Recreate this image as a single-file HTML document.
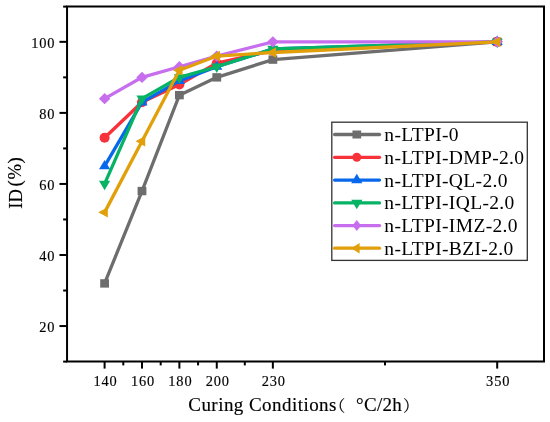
<!DOCTYPE html>
<html><head><meta charset="utf-8"><title>ID vs Curing Conditions</title>
<style>
html,body{margin:0;padding:0;background:#fff;}
body{width:550px;height:422px;overflow:hidden;}
svg{display:block;}
text{font-family:"Liberation Serif","Noto Serif CJK SC",serif;fill:#000;stroke:#000;stroke-width:0.15px;}
</style></head><body>
<svg width="550" height="422" viewBox="0 0 550 422">
<rect width="550" height="422" fill="#fff"/>

<g stroke="#000" stroke-width="2.0" fill="none" stroke-linecap="square">
<path d="M67.05 6.6 H544.0 V361.6 H67.05 Z" stroke-linecap="butt"/>
<path d="M59.45 326.05 H67.05" stroke-linecap="butt"/>
<path d="M59.45 255.00 H67.05" stroke-linecap="butt"/>
<path d="M59.45 183.95 H67.05" stroke-linecap="butt"/>
<path d="M59.45 112.90 H67.05" stroke-linecap="butt"/>
<path d="M59.45 41.85 H67.05" stroke-linecap="butt"/>
<path d="M63.15 361.60 H67.05" stroke-linecap="butt"/>
<path d="M63.15 290.53 H67.05" stroke-linecap="butt"/>
<path d="M63.15 219.47 H67.05" stroke-linecap="butt"/>
<path d="M63.15 148.43 H67.05" stroke-linecap="butt"/>
<path d="M63.15 77.38 H67.05" stroke-linecap="butt"/>
<path d="M63.15 6.60 H67.05" stroke-linecap="butt"/>
<path d="M104.60 361.6 V368.60" stroke-linecap="butt"/>
<path d="M141.99 361.6 V368.60" stroke-linecap="butt"/>
<path d="M179.38 361.6 V368.60" stroke-linecap="butt"/>
<path d="M216.77 361.6 V368.60" stroke-linecap="butt"/>
<path d="M272.86 361.6 V368.60" stroke-linecap="butt"/>
<path d="M497.19 361.6 V368.60" stroke-linecap="butt"/>
<path d="M123.29 361.6 V365.40" stroke-linecap="butt"/>
<path d="M160.69 361.6 V365.40" stroke-linecap="butt"/>
<path d="M198.07 361.6 V365.40" stroke-linecap="butt"/>
<path d="M244.81 361.6 V365.40" stroke-linecap="butt"/>
<path d="M385.02 361.6 V365.40" stroke-linecap="butt"/>
</g>
<g font-size="14.4" letter-spacing="0.85" style="stroke:none;fill:#222">
<text x="55.4" y="332.25" text-anchor="end">20</text>
<text x="55.4" y="261.20" text-anchor="end">40</text>
<text x="55.4" y="190.15" text-anchor="end">60</text>
<text x="55.4" y="119.10" text-anchor="end">80</text>
<text x="55.4" y="48.05" text-anchor="end">100</text>
<text x="105.60" y="385.7" text-anchor="middle">140</text>
<text x="142.99" y="385.7" text-anchor="middle">160</text>
<text x="180.38" y="385.7" text-anchor="middle">180</text>
<text x="217.77" y="385.7" text-anchor="middle">200</text>
<text x="273.86" y="385.7" text-anchor="middle">230</text>
<text x="498.19" y="385.7" text-anchor="middle">350</text>
</g>
<text font-size="18.7" transform="translate(21.8 208.8) rotate(-90)">ID</text>
<text font-size="18.7" letter-spacing="0.6" transform="translate(21.2 186.4) rotate(-90)">(%)</text>
<text font-size="19" letter-spacing="0.45" x="188.3" y="411.4">Curing Conditions</text>
<text font-size="16" x="329.2" y="410.8" font-family="Noto Serif CJK SC">（</text>
<text font-size="19" letter-spacing="0.3" x="356.1" y="411.4">°C/2h</text>
<text font-size="16" x="402.9" y="410.8" font-family="Noto Serif CJK SC">）</text>
<polyline points="104.60,283.42 141.99,191.06 179.38,95.14 216.77,77.38 272.86,59.61 497.19,41.85" fill="none" stroke="#6D6D6D" stroke-width="3.3" stroke-linejoin="miter" stroke-linecap="butt"/>
<rect x="100.20" y="279.22" width="8.80" height="8.40" fill="#6D6D6D"/>
<rect x="137.59" y="186.86" width="8.80" height="8.40" fill="#6D6D6D"/>
<rect x="174.98" y="90.94" width="8.80" height="8.40" fill="#6D6D6D"/>
<rect x="212.37" y="73.17" width="8.80" height="8.40" fill="#6D6D6D"/>
<rect x="268.46" y="55.41" width="8.80" height="8.40" fill="#6D6D6D"/>
<rect x="492.79" y="37.65" width="8.80" height="8.40" fill="#6D6D6D"/>
<polyline points="104.60,137.77 141.99,102.24 179.38,84.48 216.77,63.17 272.86,50.73 497.19,41.85" fill="none" stroke="#F8323A" stroke-width="3.3" stroke-linejoin="miter" stroke-linecap="butt"/>
<ellipse cx="104.60" cy="137.77" rx="5.00" ry="5.00" fill="#F8323A"/>
<ellipse cx="141.99" cy="102.24" rx="5.00" ry="5.00" fill="#F8323A"/>
<ellipse cx="179.38" cy="84.48" rx="5.00" ry="5.00" fill="#F8323A"/>
<ellipse cx="216.77" cy="63.17" rx="5.00" ry="5.00" fill="#F8323A"/>
<ellipse cx="272.86" cy="50.73" rx="5.00" ry="5.00" fill="#F8323A"/>
<ellipse cx="497.19" cy="41.85" rx="5.00" ry="5.00" fill="#F8323A"/>
<polyline points="104.60,166.19 141.99,102.24 179.38,80.93 216.77,66.72 272.86,48.95 497.19,41.85" fill="none" stroke="#0868EC" stroke-width="3.3" stroke-linejoin="miter" stroke-linecap="butt"/>
<path d="M104.60 159.92 L110.20 169.32 L99.00 169.32Z" fill="#0868EC"/>
<path d="M141.99 95.98 L147.59 105.38 L136.39 105.38Z" fill="#0868EC"/>
<path d="M179.38 74.66 L184.98 84.06 L173.78 84.06Z" fill="#0868EC"/>
<path d="M216.77 60.45 L222.37 69.85 L211.17 69.85Z" fill="#0868EC"/>
<path d="M272.86 42.69 L278.46 52.09 L267.25 52.09Z" fill="#0868EC"/>
<path d="M497.19 35.58 L502.79 44.98 L491.59 44.98Z" fill="#0868EC"/>
<polyline points="104.60,183.95 141.99,98.69 179.38,77.38 216.77,66.72 272.86,48.95 497.19,41.85" fill="none" stroke="#06B365" stroke-width="3.3" stroke-linejoin="miter" stroke-linecap="butt"/>
<path d="M104.60 190.22 L110.20 180.82 L99.00 180.82Z" fill="#06B365"/>
<path d="M141.99 104.96 L147.59 95.56 L136.39 95.56Z" fill="#06B365"/>
<path d="M179.38 83.64 L184.98 74.24 L173.78 74.24Z" fill="#06B365"/>
<path d="M216.77 72.98 L222.37 63.58 L211.17 63.58Z" fill="#06B365"/>
<path d="M272.86 55.22 L278.46 45.82 L267.25 45.82Z" fill="#06B365"/>
<path d="M497.19 48.12 L502.79 38.72 L491.59 38.72Z" fill="#06B365"/>
<polyline points="104.60,98.69 141.99,77.38 179.38,66.72 216.77,56.06 272.86,41.85 497.19,41.85" fill="none" stroke="#C66EEE" stroke-width="3.3" stroke-linejoin="miter" stroke-linecap="butt"/>
<path d="M104.60 93.09 L110.30 98.69 L104.60 104.29 L98.90 98.69Z" fill="#C66EEE"/>
<path d="M141.99 71.78 L147.69 77.38 L141.99 82.97 L136.29 77.38Z" fill="#C66EEE"/>
<path d="M179.38 61.12 L185.08 66.72 L179.38 72.32 L173.68 66.72Z" fill="#C66EEE"/>
<path d="M216.77 50.46 L222.47 56.06 L216.77 61.66 L211.07 56.06Z" fill="#C66EEE"/>
<path d="M272.86 36.25 L278.56 41.85 L272.86 47.45 L267.16 41.85Z" fill="#C66EEE"/>
<path d="M497.19 36.25 L502.89 41.85 L497.19 47.45 L491.49 41.85Z" fill="#C66EEE"/>
<polyline points="104.60,212.37 141.99,141.32 179.38,70.27 216.77,56.06 272.86,52.51 497.19,41.85" fill="none" stroke="#E19F0A" stroke-width="3.3" stroke-linejoin="miter" stroke-linecap="butt"/>
<path d="M98.20 212.37 L107.80 207.17 L107.80 217.57Z" fill="#E19F0A"/>
<path d="M135.59 141.32 L145.19 136.12 L145.19 146.52Z" fill="#E19F0A"/>
<path d="M172.98 70.27 L182.58 65.07 L182.58 75.47Z" fill="#E19F0A"/>
<path d="M210.37 56.06 L219.97 50.86 L219.97 61.26Z" fill="#E19F0A"/>
<path d="M266.46 52.51 L276.06 47.31 L276.06 57.71Z" fill="#E19F0A"/>
<path d="M490.79 41.85 L500.39 36.65 L500.39 47.05Z" fill="#E19F0A"/>
<rect x="331.8" y="122.2" width="195.50" height="138.20" fill="#fff" stroke="#333" stroke-width="1.3"/>
<path d="M334.6 134.5 H379.5" stroke="#6D6D6D" stroke-width="3.3" stroke-linecap="round"/>
<rect x="352.45" y="130.50" width="8.70" height="8.00" fill="#6D6D6D"/>
<text style="stroke:none" font-size="19.5" letter-spacing="0.35" x="384.3" y="141.00">n-LTPI-0</text>
<path d="M334.6 157.3 H379.5" stroke="#F8323A" stroke-width="3.3" stroke-linecap="round"/>
<ellipse cx="356.80" cy="157.30" rx="4.50" ry="4.50" fill="#F8323A"/>
<text style="stroke:none" font-size="19.5" letter-spacing="0.35" x="384.3" y="163.80">n-LTPI-DMP-2.0</text>
<path d="M334.6 180.1 H379.5" stroke="#0868EC" stroke-width="3.3" stroke-linecap="round"/>
<path d="M356.80 173.83 L362.40 183.23 L351.20 183.23Z" fill="#0868EC"/>
<text style="stroke:none" font-size="19.5" letter-spacing="0.35" x="384.3" y="186.60">n-LTPI-QL-2.0</text>
<path d="M334.6 202.9 H379.5" stroke="#06B365" stroke-width="3.3" stroke-linecap="round"/>
<path d="M356.80 209.17 L362.40 199.77 L351.20 199.77Z" fill="#06B365"/>
<text style="stroke:none" font-size="19.5" letter-spacing="0.35" x="384.3" y="209.40">n-LTPI-IQL-2.0</text>
<path d="M334.6 225.6 H379.5" stroke="#C66EEE" stroke-width="3.3" stroke-linecap="round"/>
<path d="M356.80 220.10 L361.10 225.60 L356.80 231.10 L352.50 225.60Z" fill="#C66EEE"/>
<text style="stroke:none" font-size="19.5" letter-spacing="0.35" x="384.3" y="232.10">n-LTPI-IMZ-2.0</text>
<path d="M334.6 248.2 H379.5" stroke="#E19F0A" stroke-width="3.3" stroke-linecap="round"/>
<path d="M351.13 248.20 L359.63 242.90 L359.63 253.50Z" fill="#E19F0A"/>
<text style="stroke:none" font-size="19.5" letter-spacing="0.35" x="384.3" y="254.70">n-LTPI-BZI-2.0</text>
</svg>
</body></html>
